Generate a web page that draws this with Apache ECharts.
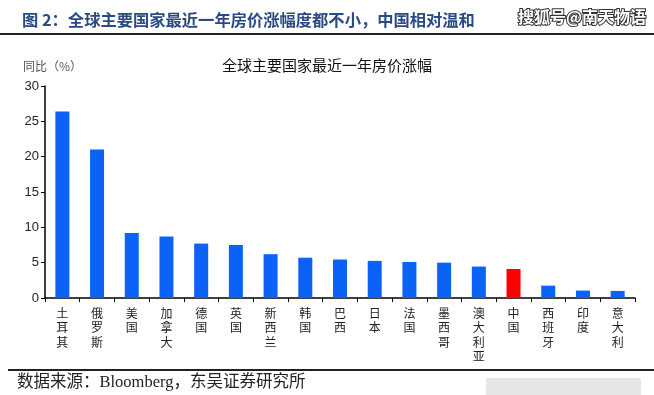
<!DOCTYPE html>
<html><head><meta charset="utf-8">
<script src="https://cdn.jsdelivr.net/npm/echarts@6/dist/echarts.min.js"></script>
<style>html,body{margin:0;padding:0;background:#fff}#c{width:654px;height:395px}</style>
</head><body><div id="c"></div>
<script>
const categories = ['土耳其','俄罗斯','美国','加拿大','德国','英国','新西兰','韩国','巴西','日本','法国','墨西哥','澳大利亚','中国','西班牙','印度','意大利'];
const values = [26.4, 21.0, 9.2, 8.7, 7.7, 7.5, 6.2, 5.7, 5.45, 5.25, 5.1, 5.0, 4.45, 4.1, 1.75, 1.05, 1.0];
const highlight = '中国';
const yTicks = [0, 5, 10, 15, 20, 25, 30];

const chart = echarts.init(document.getElementById('c'), null, {renderer: 'canvas'});
const cjk = '"Noto Sans CJK SC", "Noto Sans", sans-serif';
chart.setOption({
  animation: false,
  backgroundColor: '#fff',
  title: [
    {text: '图 2：全球主要国家最近一年房价涨幅度都不小，中国相对温和', left: 17, top: 7,
     textStyle: {fontFamily: cjk, fontSize: 16.3, fontWeight: 'bold', color: '#2a4a86'}},
    {text: '全球主要国家最近一年房价涨幅', left: 'center', top: 53,
     textStyle: {fontFamily: cjk, fontSize: 15, fontWeight: 'normal', color: '#111'}},
    {text: '同比（%）', left: 18, top: 55,
     textStyle: {fontFamily: cjk, fontSize: 12, fontWeight: 'normal', color: '#555'}}
  ],
  graphic: [
    {type: 'rect', shape: {x: 0, y: 33, width: 654, height: 2}, style: {fill: '#222'}},
    {type: 'rect', shape: {x: 8, y: 369, width: 646, height: 2}, style: {fill: '#222'}},
    {type: 'text', left: 517, top: 8, style: {text: '搜狐号@南天物语', font: 'bold 16px "Noto Sans CJK SC"', fill: '#fff', stroke: '#333', lineWidth: 2}},
    {type: 'text', left: 17, top: 374, style: {text: '数据来源：Bloomberg，东吴证券研究所', font: '16.5px "Liberation Serif", "Noto Sans CJK SC"', fill: '#222'}},
    {type: 'rect', shape: {x: 486, y: 378, width: 155, height: 17}, style: {fill: '#e6e6e6'}}
  ],
  grid: {left: 45, right: 19, top: 86, bottom: 97},
  xAxis: {
    type: 'category', data: categories,
    axisLine: {lineStyle: {color: '#000', width: 1.5}},
    axisTick: {show: true, length: 4, inside: false, lineStyle: {color: '#000'}},
    axisLabel: {interval: 0, margin: 8, color: '#222', fontFamily: cjk, fontSize: 12, lineHeight: 14.5,
      formatter: v => v.split('').join('\n')}
  },
  yAxis: {
    type: 'value', min: 0, max: 30, interval: 5,
    axisLine: {show: true, lineStyle: {color: '#000', width: 1.5}},
    axisTick: {show: true, length: 4, lineStyle: {color: '#000'}},
    splitLine: {show: false},
    axisLabel: {color: '#222', fontFamily: 'Liberation Sans, sans-serif', fontSize: 13, margin: 6,
      formatter: v => yTicks.includes(v) ? String(v) : ''}
  },
  series: [{
    type: 'bar', barWidth: 14,
    data: values.map((v, i) => ({value: v, itemStyle: {color: categories[i] === highlight ? '#ff0000' : '#0a63f6'}}))
  }]
});
</script></body></html>
